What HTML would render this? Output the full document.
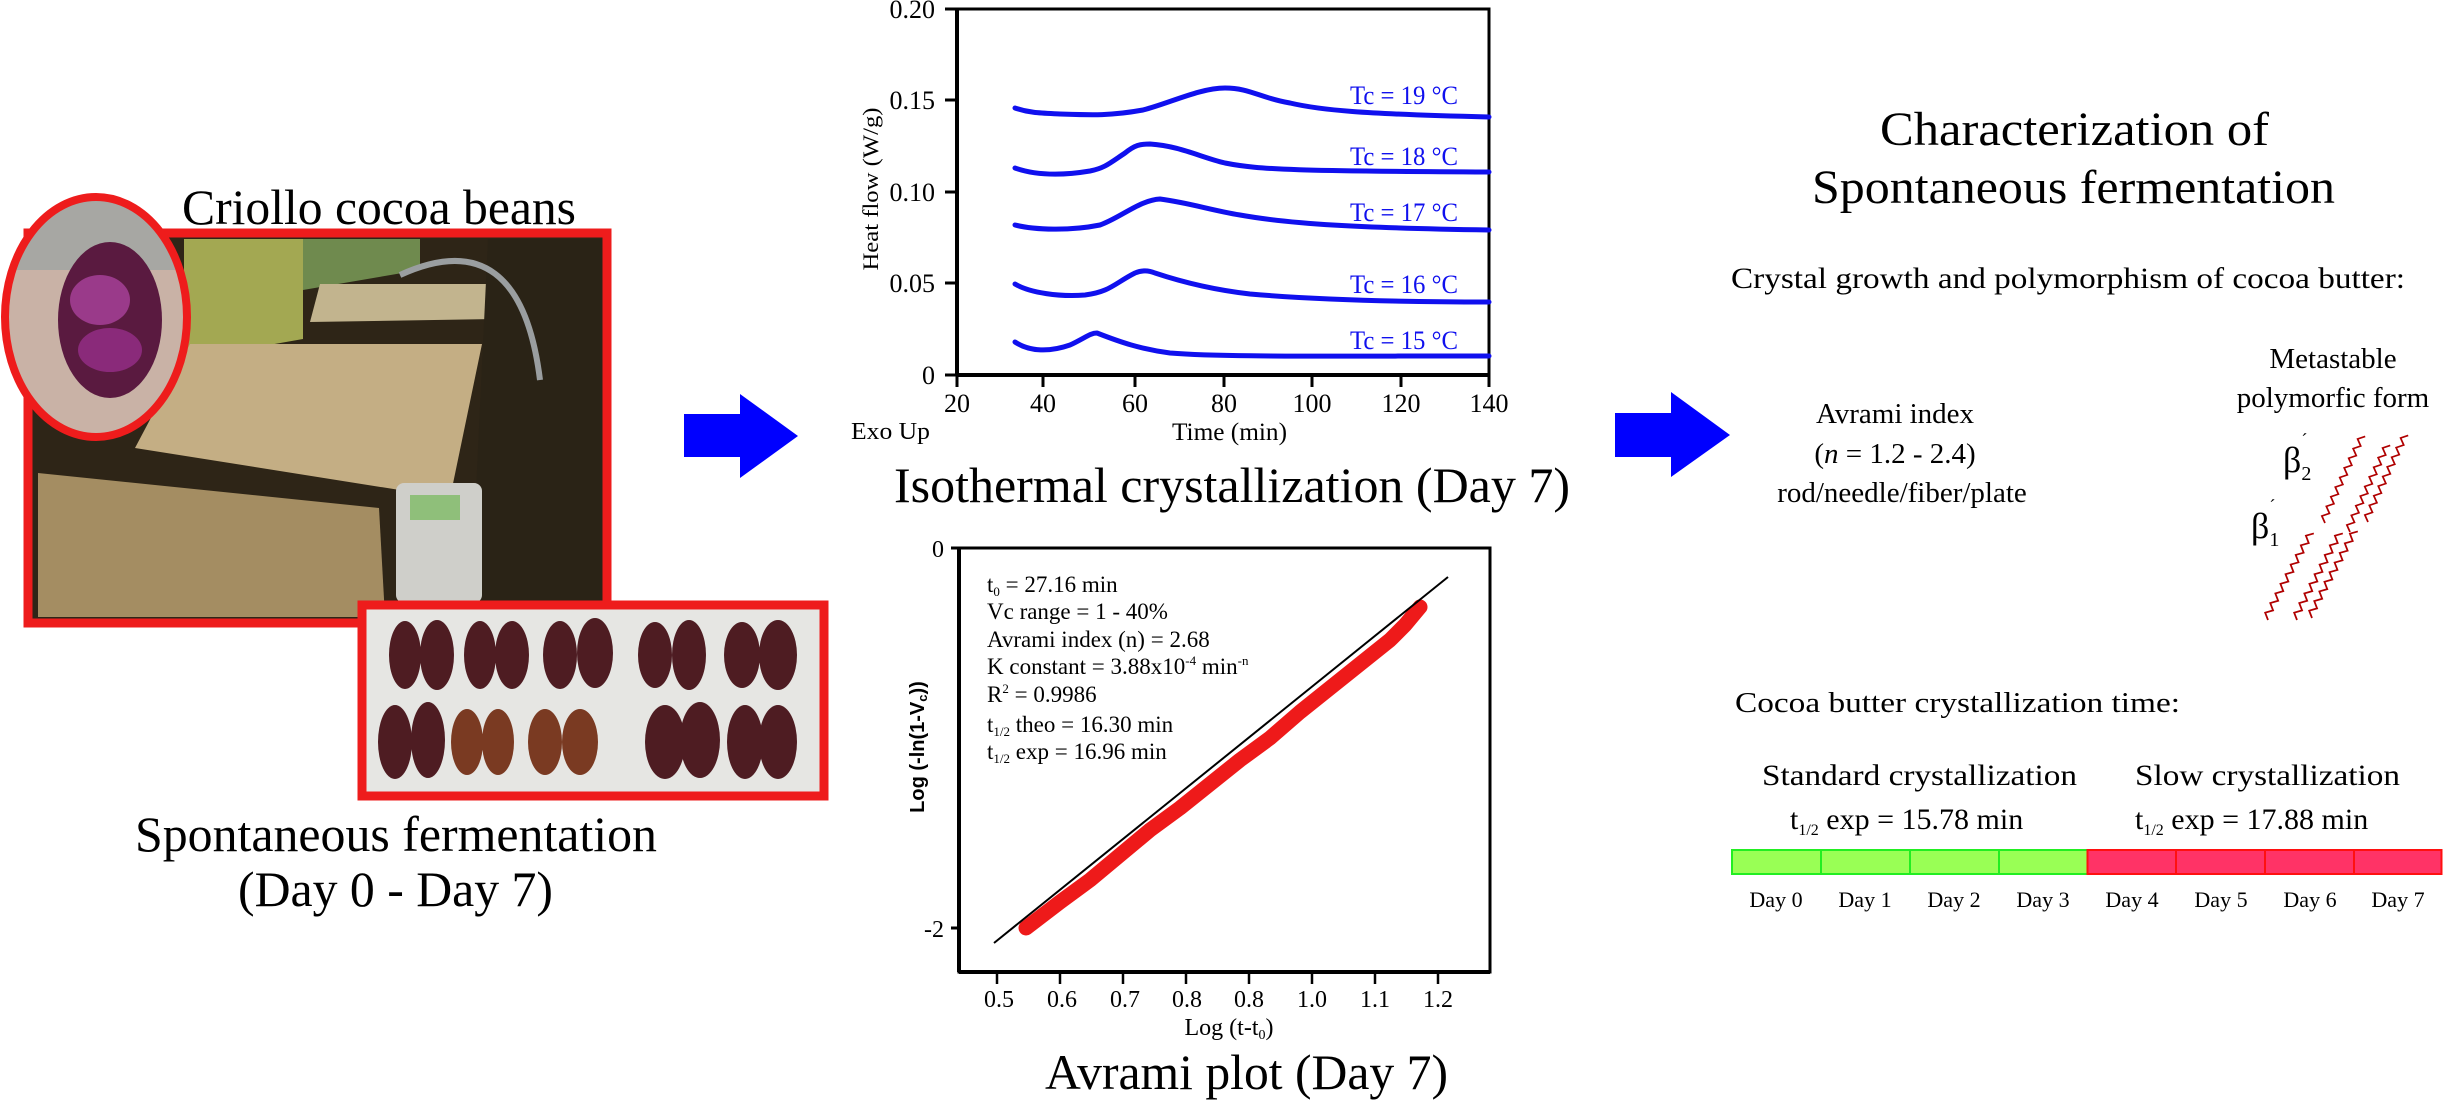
<!DOCTYPE html>
<html><head><meta charset="utf-8"><style>
html,body{margin:0;padding:0;background:#fff;}
svg{display:block;}
text{font-family:"Liberation Serif",serif;fill:#000;}
</style></head><body>
<svg width="2443" height="1103" viewBox="0 0 2443 1103" xmlns="http://www.w3.org/2000/svg">
<defs>
<path id="zz" d="M0,0 l4,-9 l9,5 l4,-9 l9,5 l4,-9 l9,5 l4,-9 l9,5 l4,-9 l9,5 l4,-9 l9,5 l4,-9 l9,5 l4,-9 l9,5 l4,-9 l9,5" fill="none" stroke="#b00000" stroke-width="2.2" stroke-linejoin="miter"/>
<clipPath id="ellc"><ellipse cx="96" cy="317" rx="91" ry="120"/></clipPath>
</defs>

<!-- LEFT: big photo -->
<rect x="28" y="233" width="579" height="390" fill="#2e2517"/>
<polygon points="184,239 303,239 303,339 184,360" fill="#a3a852"/>
<polygon points="303,239 420,239 420,270 303,290" fill="#6f8a4e"/>
<polygon points="320,284 501,284 495,319 310,322" fill="#c2b48e"/>
<polygon points="190,344 482,344 450,498 135,448" fill="#c4ae84"/>
<polygon points="38,473 379,508 385,617 38,617" fill="#a48d62"/>
<polygon points="488,239 604,239 604,617 470,617" fill="#2a2316"/>
<rect x="396" y="483" width="86" height="120" rx="8" fill="#cfcfca"/>
<rect x="410" y="495" width="50" height="25" fill="#8fbf7a"/>
<path d="M400,275 Q520,220 540,380" fill="none" stroke="#9a9ea0" stroke-width="6"/>
<rect x="28" y="233" width="579" height="390" fill="none" stroke="#ee1c1c" stroke-width="9"/>
<!-- ellipse inset -->
<g clip-path="url(#ellc)">
<rect x="0" y="190" width="200" height="260" fill="#c9b2a6"/>
<rect x="0" y="190" width="200" height="80" fill="#a7a7a3"/>
<ellipse cx="110" cy="320" rx="52" ry="78" fill="#5a1a40"/>
<ellipse cx="100" cy="300" rx="30" ry="25" fill="#9a3a8a"/>
<ellipse cx="110" cy="350" rx="32" ry="22" fill="#8a2a7a"/>
</g>
<ellipse cx="96" cy="317" rx="91" ry="120" fill="none" stroke="#ee1c1c" stroke-width="8"/>
<!-- small photo -->
<rect x="362" y="605" width="462" height="191" fill="#e6e6e3"/>
<g fill="#4e1c22">
<ellipse cx="405" cy="655" rx="16" ry="34"/><ellipse cx="437" cy="655" rx="17" ry="35"/>
<ellipse cx="480" cy="655" rx="16" ry="34"/><ellipse cx="512" cy="655" rx="17" ry="34"/>
<ellipse cx="560" cy="655" rx="17" ry="34"/><ellipse cx="595" cy="653" rx="18" ry="35"/>
<ellipse cx="655" cy="655" rx="17" ry="33"/><ellipse cx="689" cy="655" rx="17" ry="35"/>
<ellipse cx="742" cy="655" rx="18" ry="33"/><ellipse cx="778" cy="655" rx="19" ry="35"/>
<ellipse cx="395" cy="742" rx="17" ry="37"/><ellipse cx="428" cy="740" rx="17" ry="38"/>
<ellipse cx="665" cy="742" rx="20" ry="37"/><ellipse cx="700" cy="740" rx="20" ry="38"/>
<ellipse cx="745" cy="742" rx="18" ry="37"/><ellipse cx="778" cy="742" rx="19" ry="37"/>
</g>
<g fill="#7a3a22">
<ellipse cx="467" cy="742" rx="16" ry="33"/><ellipse cx="498" cy="742" rx="16" ry="33"/>
<ellipse cx="545" cy="742" rx="17" ry="33"/><ellipse cx="580" cy="742" rx="18" ry="33"/>
</g>
<rect x="362" y="605" width="462" height="191" fill="none" stroke="#ee1c1c" stroke-width="9"/>

<text x="182" y="224" font-size="50" textLength="394" lengthAdjust="spacingAndGlyphs">Criollo cocoa beans</text>
<text x="135" y="851" font-size="50" textLength="522" lengthAdjust="spacingAndGlyphs">Spontaneous fermentation</text>
<text x="238" y="906" font-size="50" textLength="315" lengthAdjust="spacingAndGlyphs">(Day 0 - Day 7)</text>

<!-- arrows -->
<polygon points="684,414 740,414 740,394 798,436 740,478 740,457 684,457" fill="#0000ff"/>
<polygon points="1615,413 1671,413 1671,392 1730,435 1671,477 1671,457 1615,457" fill="#0000ff"/>

<!-- HEAT FLOW CHART -->
<g stroke="#000" fill="none">
<rect x="957" y="9" width="532" height="366" stroke-width="3"/>
<line x1="957" y1="9" x2="957" y2="375" stroke-width="4"/>
<line x1="957" y1="375" x2="1489" y2="375" stroke-width="4"/>
<g stroke-width="3">
<line x1="945" y1="9" x2="957" y2="9"/><line x1="945" y1="100" x2="957" y2="100"/>
<line x1="945" y1="192" x2="957" y2="192"/><line x1="945" y1="283" x2="957" y2="283"/>
<line x1="945" y1="375" x2="957" y2="375"/>
<line x1="957" y1="375" x2="957" y2="387"/><line x1="1043" y1="375" x2="1043" y2="387"/>
<line x1="1135" y1="375" x2="1135" y2="387"/><line x1="1224" y1="375" x2="1224" y2="387"/>
<line x1="1312" y1="375" x2="1312" y2="387"/><line x1="1401" y1="375" x2="1401" y2="387"/>
<line x1="1489" y1="375" x2="1489" y2="387"/>
</g>
</g>
<g font-size="26" text-anchor="end">
<text x="935" y="18">0.20</text><text x="935" y="109">0.15</text>
<text x="935" y="201">0.10</text><text x="935" y="292">0.05</text><text x="935" y="384">0</text>
</g>
<g font-size="26" text-anchor="middle">
<text x="957" y="412">20</text><text x="1043" y="412">40</text><text x="1135" y="412">60</text>
<text x="1224" y="412">80</text><text x="1312" y="412">100</text><text x="1401" y="412">120</text>
<text x="1489" y="412">140</text>
</g>
<text x="851" y="439" font-size="24" textLength="79" lengthAdjust="spacingAndGlyphs">Exo Up</text>
<text x="1172" y="440" font-size="25" textLength="115" lengthAdjust="spacingAndGlyphs">Time (min)</text>
<text transform="translate(878,189) rotate(-90)" text-anchor="middle" font-size="22" textLength="163" lengthAdjust="spacingAndGlyphs">Heat flow (W/g)</text>
<g fill="none" stroke="#1010ee" stroke-width="5" stroke-linejoin="round" stroke-linecap="round">
<path d="M1015,108 C1030,113 1040,113 1060,114 C1090,115 1110,116 1143,110 C1170,103 1200,88 1225,88 C1250,88 1260,98 1290,103 C1320,110 1360,114 1489,117"/>
<path d="M1015,168 C1035,175 1060,176 1090,171 C1105,168 1110,163 1125,153 C1135,145 1140,144 1150,144 C1180,146 1200,157 1225,163 C1260,170 1300,171 1489,172"/>
<path d="M1015,225 C1035,230 1070,231 1100,225 C1120,218 1140,200 1160,199 C1190,203 1210,210 1240,215 C1290,224 1360,228 1489,230"/>
<path d="M1015,284 C1030,293 1060,297 1085,295 C1110,292 1115,283 1135,273 C1142,270 1148,270 1155,273 C1185,283 1215,290 1250,294 C1320,300 1400,302 1489,302"/>
<path d="M1015,342 C1030,352 1050,352 1070,345 C1085,338 1090,333 1097,333 C1120,342 1140,349 1170,353 C1220,357 1300,356 1489,356"/>
</g>
<g font-size="26">
<text x="1350" y="104" textLength="108" lengthAdjust="spacingAndGlyphs" style="fill:#1010ee">Tc = 19 °C</text>
<text x="1350" y="165" textLength="108" lengthAdjust="spacingAndGlyphs" style="fill:#1010ee">Tc = 18 °C</text>
<text x="1350" y="221" textLength="108" lengthAdjust="spacingAndGlyphs" style="fill:#1010ee">Tc = 17 °C</text>
<text x="1350" y="293" textLength="108" lengthAdjust="spacingAndGlyphs" style="fill:#1010ee">Tc = 16 °C</text>
<text x="1350" y="349" textLength="108" lengthAdjust="spacingAndGlyphs" style="fill:#1010ee">Tc = 15 °C</text>
</g>
<text x="894" y="502" font-size="50" textLength="676" lengthAdjust="spacingAndGlyphs">Isothermal crystallization (Day 7)</text>

<!-- AVRAMI CHART -->
<g stroke="#000" fill="none">
<rect x="959" y="548" width="531" height="424" stroke-width="3"/>
<line x1="959" y1="548" x2="959" y2="972" stroke-width="4"/>
<line x1="959" y1="972" x2="1490" y2="972" stroke-width="4"/>
<line x1="951" y1="548" x2="959" y2="548" stroke-width="3"/>
<line x1="951" y1="928" x2="959" y2="928" stroke-width="3"/>
<g stroke-width="2.5">
<line x1="997" y1="972" x2="997" y2="984"/><line x1="1060" y1="972" x2="1060" y2="984"/>
<line x1="1123" y1="972" x2="1123" y2="984"/><line x1="1186" y1="972" x2="1186" y2="984"/>
<line x1="1249" y1="972" x2="1249" y2="984"/><line x1="1312" y1="972" x2="1312" y2="984"/>
<line x1="1375" y1="972" x2="1375" y2="984"/><line x1="1438" y1="972" x2="1438" y2="984"/>
</g>
</g>
<text x="944" y="557" font-size="24" text-anchor="end">0</text>
<text x="944" y="937" font-size="24" text-anchor="end">-2</text>
<g font-size="24" text-anchor="middle">
<text x="999" y="1007">0.5</text><text x="1062" y="1007">0.6</text><text x="1125" y="1007">0.7</text>
<text x="1187" y="1007">0.8</text><text x="1249" y="1007">0.8</text><text x="1312" y="1007">1.0</text>
<text x="1375" y="1007">1.1</text><text x="1438" y="1007">1.2</text>
</g>
<text x="1229" y="1035" font-size="24" text-anchor="middle">Log (t-t<tspan font-size="14" dy="4">0</tspan><tspan dy="-4">)</tspan></text>
<text transform="translate(924,747) rotate(-90)" text-anchor="middle" font-size="20" style="font-family:'Liberation Sans',sans-serif;font-weight:bold">Log (-ln(1-V<tspan font-size="13" dy="3">c</tspan><tspan dy="-3">))</tspan></text>
<polyline points="1026,928 1060,902 1090,880 1120,855 1150,830 1180,808 1210,784 1240,760 1270,738 1300,712 1330,688 1360,664 1390,640 1405,625 1420,607" fill="none" stroke="#ee1a1a" stroke-width="15" stroke-linecap="round" stroke-linejoin="round"/>
<line x1="994" y1="943" x2="1448" y2="577" stroke="#000" stroke-width="2"/>
<g font-size="23">
<text x="987" y="592">t<tspan font-size="13" dy="4">0</tspan><tspan dy="-4"> = 27.16 min</tspan></text>
<text x="987" y="619">Vc range = 1 - 40%</text>
<text x="987" y="647">Avrami index (n) = 2.68</text>
<text x="987" y="674">K constant = 3.88x10<tspan font-size="13" dy="-9">-4</tspan><tspan dy="9"> min</tspan><tspan font-size="13" dy="-9">-n</tspan></text>
<text x="987" y="702">R<tspan font-size="13" dy="-9">2</tspan><tspan dy="9"> = 0.9986</tspan></text>
<text x="987" y="732">t<tspan font-size="13" dy="4">1/2</tspan><tspan dy="-4"> theo = 16.30 min</tspan></text>
<text x="987" y="759">t<tspan font-size="13" dy="4">1/2</tspan><tspan dy="-4"> exp = 16.96 min</tspan></text>
</g>
<text x="1045" y="1089" font-size="50" textLength="403" lengthAdjust="spacingAndGlyphs">Avrami plot (Day 7)</text>

<!-- RIGHT SIDE -->
<text x="1880" y="145" font-size="48" textLength="389" lengthAdjust="spacingAndGlyphs">Characterization of</text>
<text x="1812" y="203" font-size="48" textLength="523" lengthAdjust="spacingAndGlyphs">Spontaneous fermentation</text>
<text x="1731" y="288" font-size="30" textLength="674" lengthAdjust="spacingAndGlyphs">Crystal growth and polymorphism of cocoa butter:</text>
<g font-size="29" text-anchor="middle">
<text x="1895" y="423">Avrami index</text>
<text x="1895" y="463">(<tspan font-style="italic">n</tspan> = 1.2 - 2.4)</text>
<text x="1902" y="502">rod/needle/fiber/plate</text>
<text x="2333" y="368">Metastable</text>
<text x="2333" y="407">polymorfic form</text>
</g>
<text x="2283" y="472" font-size="36">β<tspan font-size="20" dy="8">2</tspan><tspan font-size="18" dx="-10" dy="-34">´</tspan></text>
<text x="2251" y="538" font-size="36">β<tspan font-size="20" dy="8">1</tspan><tspan font-size="18" dx="-10" dy="-34">´</tspan></text>
<use href="#zz" transform="translate(2268,620) rotate(-45) scale(0.8)"/>
<use href="#zz" transform="translate(2297,620) rotate(-45) scale(0.8)"/>
<use href="#zz" transform="translate(2312,618) rotate(-45) scale(0.8)"/>
<use href="#zz" transform="translate(2325,523) rotate(-48) scale(0.78)"/>
<use href="#zz" transform="translate(2350,532) rotate(-48) scale(0.78)"/>
<use href="#zz" transform="translate(2368,522) rotate(-48) scale(0.78)"/>

<text x="1735" y="712" font-size="28" textLength="445" lengthAdjust="spacingAndGlyphs">Cocoa butter crystallization time:</text>
<text x="1762" y="785" font-size="30" textLength="315" lengthAdjust="spacingAndGlyphs">Standard crystallization</text>
<text x="2135" y="785" font-size="30" textLength="265" lengthAdjust="spacingAndGlyphs">Slow crystallization</text>
<text x="1790" y="829" font-size="30">t<tspan font-size="16" dy="6">1/2</tspan><tspan dy="-6"> exp = 15.78 min</tspan></text>
<text x="2135" y="829" font-size="30">t<tspan font-size="16" dy="6">1/2</tspan><tspan dy="-6"> exp = 17.88 min</tspan></text>
<g stroke-width="2">
<rect x="1732" y="850" width="355.5" height="24" fill="#99ff55" stroke="#22ee22"/>
<rect x="2087.5" y="850" width="354" height="24" fill="#ff3366" stroke="#ff1010"/>
<line x1="1821" y1="850" x2="1821" y2="874" stroke="#22ee22"/>
<line x1="1910" y1="850" x2="1910" y2="874" stroke="#22ee22"/>
<line x1="1999" y1="850" x2="1999" y2="874" stroke="#22ee22"/>
<line x1="2176" y1="850" x2="2176" y2="874" stroke="#ff1010"/>
<line x1="2265" y1="850" x2="2265" y2="874" stroke="#ff1010"/>
<line x1="2354" y1="850" x2="2354" y2="874" stroke="#ff1010"/>
</g>
<g font-size="22" text-anchor="middle">
<text x="1776" y="907">Day 0</text><text x="1865" y="907">Day 1</text><text x="1954" y="907">Day 2</text>
<text x="2043" y="907">Day 3</text><text x="2132" y="907">Day 4</text><text x="2221" y="907">Day 5</text>
<text x="2310" y="907">Day 6</text><text x="2398" y="907">Day 7</text>
</g>
</svg>
</body></html>
